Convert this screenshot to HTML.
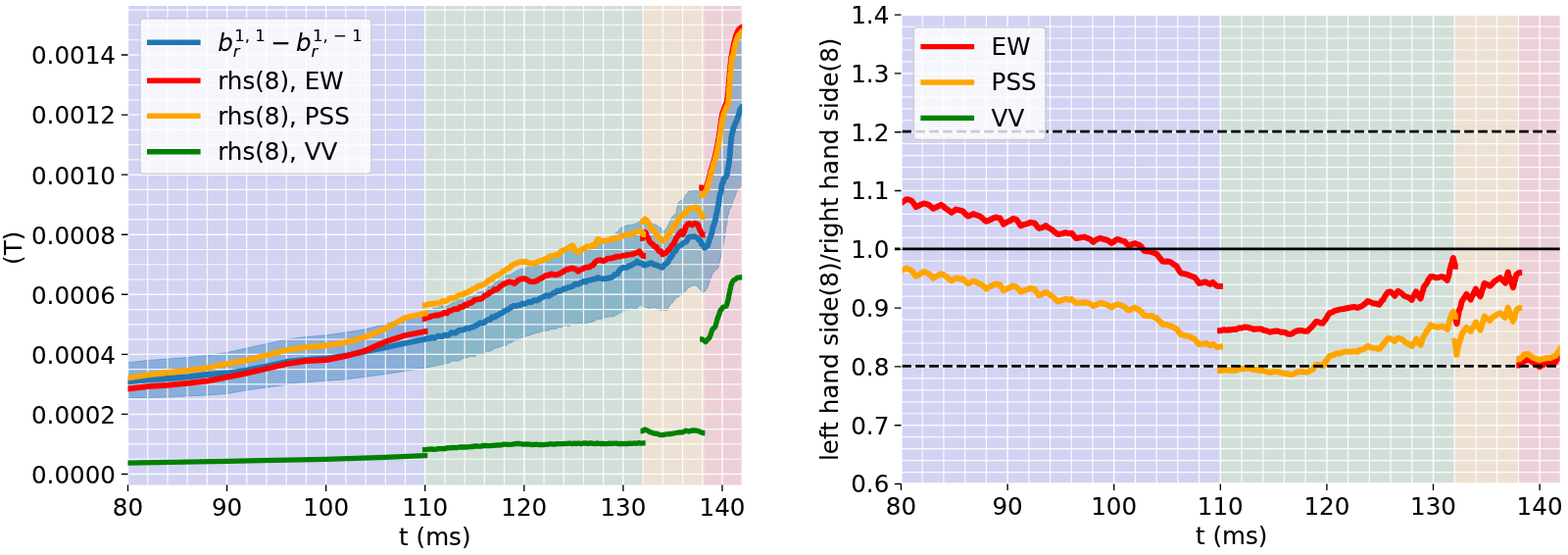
<!DOCTYPE html>
<html lang="en"><head><meta charset="utf-8"><title>Figure</title>
<style>html,body{margin:0;padding:0;background:#fff}body{width:1600px;height:566px;overflow:hidden}svg{display:block}</style>
</head><body>
<svg width="1600" height="566" viewBox="0 0 1600 566" font-family='"DejaVu Sans", "Liberation Sans", sans-serif'>
<rect width="1600" height="566" fill="#fff"/>
<style>text{stroke:#000;stroke-width:0.08px;stroke-linejoin:round}</style>
<clipPath id="cl"><rect x="130.5" y="6.0" width="626.7" height="488.6"/></clipPath>
<rect x="130.50" y="6.00" width="626.70" height="488.60" fill="#eaeaf2"/>
<rect x="130.50" y="6.00" width="303.24" height="488.60" fill="#0000ff" fill-opacity="0.1"/>
<rect x="433.74" y="6.00" width="222.38" height="488.60" fill="#008000" fill-opacity="0.1"/>
<rect x="656.12" y="6.00" width="62.65" height="488.60" fill="#ffa500" fill-opacity="0.125"/>
<rect x="718.76" y="6.00" width="38.43" height="488.60" fill="#ff0000" fill-opacity="0.11"/>
<path d="M130.5 369.7L150.7 367.5L170.9 366.0L191.1 364.5L211.4 362.5L231.6 359.5L251.8 355.0L272.0 350.7L292.2 346.0L312.4 343.5L332.7 341.8L352.9 339.0L373.1 335.8L393.3 330.5L413.5 325.0L433.7 319.0L433.7 317.0L436.3 316.3L438.7 316.6L441.3 315.1L443.8 313.9L446.5 314.1L448.7 312.4L451.6 311.8L453.6 312.4L456.7 312.1L459.0 310.6L461.2 308.7L463.8 308.6L466.4 307.0L469.1 305.8L471.9 305.8L474.3 305.0L476.8 303.9L479.1 302.7L482.1 302.6L484.4 301.2L486.7 299.0L489.1 297.8L491.8 297.7L494.3 296.7L496.9 295.4L498.7 292.0L501.1 292.3L503.3 291.0L505.7 287.6L507.7 287.6L510.0 284.7L512.5 284.9L514.4 281.7L516.9 280.6L519.6 280.8L522.4 279.2L525.1 277.4L527.5 276.1L529.9 275.0L532.2 274.1L535.0 274.4L537.6 272.7L539.8 272.2L542.5 273.1L545.3 271.2L547.4 269.9L549.9 269.5L552.2 267.1L555.0 265.2L557.6 264.5L560.0 263.7L562.5 263.9L565.2 262.1L567.3 260.1L570.3 260.3L572.5 257.7L575.5 257.5L578.4 255.1L581.1 255.1L583.8 252.8L586.8 254.6L589.1 257.5L592.2 256.0L594.9 255.2L597.5 253.6L599.6 252.5L602.4 252.7L604.5 252.0L606.8 251.8L608.4 247.5L609.7 245.9L612.8 246.1L615.5 247.6L619.1 246.0L622.1 246.0L624.1 243.4L625.7 240.3L628.2 237.5L630.3 236.4L633.0 232.8L636.0 231.5L640.3 229.6L643.0 229.7L646.2 229.0L650.1 227.5L653.2 225.6L656.1 223.7L660.2 226.8L664.2 227.8L668.0 228.7L669.9 229.7L672.1 231.2L674.2 232.2L676.5 236.0L678.9 234.5L680.5 232.0L682.2 228.9L683.5 225.5L684.7 222.7L685.8 221.0L688.0 219.4L690.3 216.2L690.4 212.8L691.4 210.3L691.8 207.4L694.1 204.8L697.2 203.9L698.6 201.2L700.0 198.4L701.7 197.1L702.9 194.8L705.9 195.2L710.0 193.3L713.2 195.7L717.0 193.4L718.8 195.6L720.9 191.9L721.9 187.9L723.0 185.3L723.7 182.1L724.0 181.0L724.2 176.6L724.7 175.7L725.9 172.4L726.8 168.6L727.3 165.0L728.2 162.9L729.3 160.7L729.9 156.3L730.7 154.3L731.5 151.3L732.3 148.6L732.2 145.6L732.6 142.5L733.1 138.8L733.3 137.4L733.8 133.8L734.3 131.9L734.8 129.0L735.2 125.8L735.4 123.8L736.5 120.9L737.0 116.3L738.2 114.9L739.0 112.1L740.2 110.8L741.0 108.4L741.8 105.3L742.4 102.9L742.5 100.3L742.7 96.9L743.0 96.0L743.0 92.6L743.2 89.6L743.1 88.2L743.3 84.2L743.7 82.6L743.4 80.0L743.6 78.1L743.8 75.6L744.5 72.2L744.5 69.3L745.1 67.5L745.4 65.7L745.7 63.4L745.8 60.9L746.5 56.9L747.1 54.6L747.5 52.8L748.0 50.7L748.9 47.1L750.2 45.7L751.7 41.9L753.0 40.9L754.9 38.1L757.2 36.0L757.2 188.0L755.9 190.4L754.0 192.3L751.9 195.3L751.0 197.6L750.0 200.3L749.1 202.1L748.0 205.1L747.1 207.2L746.1 211.4L744.9 212.7L743.8 215.6L743.6 217.8L742.8 220.0L742.4 222.5L742.2 225.4L741.7 229.2L740.8 230.6L740.6 233.2L740.2 236.7L739.9 238.1L739.3 242.9L738.9 244.4L738.3 248.4L737.9 250.3L737.4 253.1L736.9 256.2L736.3 259.2L735.7 262.0L735.1 263.3L734.2 267.5L733.9 269.1L733.1 272.9L731.4 274.6L729.7 275.5L728.5 277.5L726.8 279.6L725.9 282.0L724.9 285.1L723.9 287.7L723.0 290.9L722.1 292.7L720.9 295.2L720.0 296.5L716.9 298.7L714.8 295.5L713.2 294.2L711.0 291.8L709.1 291.0L706.8 291.4L704.0 292.4L701.9 294.2L699.7 296.9L696.4 298.5L694.2 301.3L691.8 302.9L689.5 304.1L686.9 307.9L685.6 309.5L684.1 310.6L682.3 313.3L681.1 316.6L676.2 316.5L673.1 316.4L670.0 314.2L666.1 313.6L663.1 314.6L659.9 313.7L655.9 312.8L653.2 310.6L650.2 314.3L647.2 314.8L644.1 313.5L641.3 315.8L638.5 315.9L635.9 317.6L632.2 319.2L629.0 321.0L626.3 322.8L623.5 322.7L621.1 323.1L618.1 323.7L615.9 323.8L613.0 325.4L609.9 325.1L607.5 327.1L605.5 327.9L603.3 328.6L600.7 328.7L597.7 330.1L595.7 329.0L592.9 329.7L590.2 329.5L587.7 330.9L585.2 330.1L582.3 331.1L580.4 332.7L577.7 331.5L574.9 332.5L572.6 334.2L570.0 333.3L567.9 335.4L564.9 335.2L562.8 335.5L560.3 336.7L557.8 337.3L554.9 337.4L552.5 337.9L550.0 339.2L547.3 339.3L545.0 340.4L542.4 341.0L540.0 342.3L537.3 342.7L534.8 343.9L532.5 344.1L529.8 346.6L527.2 346.7L524.5 347.2L522.3 349.4L519.6 349.7L517.2 352.0L514.9 352.5L511.8 352.8L509.5 354.2L507.0 354.8L504.7 355.3L501.7 357.4L499.2 358.2L496.8 358.3L494.4 359.2L492.1 361.7L489.1 361.5L487.1 361.4L484.0 363.7L481.7 363.4L479.4 363.6L476.9 364.4L474.4 365.3L471.6 365.9L469.2 367.4L466.6 368.3L464.2 368.0L461.4 368.1L458.8 370.1L456.5 370.3L453.9 371.0L433.7 375.3L390.0 382.0L352.0 387.0L300.0 390.5L288.0 393.0L272.0 395.0L251.8 398.0L231.6 401.5L211.4 403.0L191.1 404.0L170.9 405.0L150.7 405.5L130.5 405.5Z" fill="#1f77b4" fill-opacity="0.4" stroke="#1f77b4" stroke-opacity="0.4" stroke-width="1" clip-path="url(#cl)"/>
<path d="M150.72 6.00V494.60M170.93 6.00V494.60M191.15 6.00V494.60M211.36 6.00V494.60M251.80 6.00V494.60M272.01 6.00V494.60M292.23 6.00V494.60M312.44 6.00V494.60M352.88 6.00V494.60M373.09 6.00V494.60M393.31 6.00V494.60M413.52 6.00V494.60M453.96 6.00V494.60M474.17 6.00V494.60M494.39 6.00V494.60M514.60 6.00V494.60M555.04 6.00V494.60M575.25 6.00V494.60M595.47 6.00V494.60M615.68 6.00V494.60M656.12 6.00V494.60M676.33 6.00V494.60M696.55 6.00V494.60M716.76 6.00V494.60M757.20 6.00V494.60M130.50 468.23H757.20M130.50 452.96H757.20M130.50 437.70H757.20M130.50 407.16H757.20M130.50 391.89H757.20M130.50 376.63H757.20M130.50 346.09H757.20M130.50 330.82H757.20M130.50 315.56H757.20M130.50 285.02H757.20M130.50 269.75H757.20M130.50 254.49H757.20M130.50 223.95H757.20M130.50 208.69H757.20M130.50 193.42H757.20M130.50 162.88H757.20M130.50 147.62H757.20M130.50 132.35H757.20M130.50 101.81H757.20M130.50 86.55H757.20M130.50 71.28H757.20M130.50 40.74H757.20M130.50 25.48H757.20M130.50 10.21H757.20" stroke="#fff" stroke-opacity="0.88" stroke-width="1.2" fill="none"/>
<path d="M130.50 6.00V494.60M231.58 6.00V494.60M332.66 6.00V494.60M433.74 6.00V494.60M534.82 6.00V494.60M635.90 6.00V494.60M736.98 6.00V494.60M130.50 483.50H757.20M130.50 422.43H757.20M130.50 361.36H757.20M130.50 300.29H757.20M130.50 239.22H757.20M130.50 178.15H757.20M130.50 117.08H757.20M130.50 56.01H757.20" stroke="#fff" stroke-opacity="0.88" stroke-width="1.45" fill="none"/>
<g clip-path="url(#cl)">
<path d="M127.6 389.3L130.5 389.3L150.7 387.3L170.9 386.0L191.1 384.3L211.4 382.0L231.6 380.5L251.8 377.5L272.0 373.5L292.2 369.0L312.4 367.0L332.7 365.5L352.9 362.5L373.1 358.5L393.3 354.5L413.5 350.0L433.7 346.0L436.1 344.9L438.2 345.4L440.6 344.1L442.7 344.8L444.8 343.8L447.1 342.4L449.2 343.1L451.5 343.0L453.6 341.5L456.3 342.3L458.5 341.4L460.6 339.1L462.7 339.3L465.1 339.5L467.6 337.3L469.9 336.6L472.0 336.6L474.2 335.7L476.2 334.5L478.5 334.9L480.8 333.9L483.4 333.3L485.6 332.0L487.8 330.8L489.9 329.1L492.0 329.5L494.6 328.8L496.3 326.8L498.4 325.9L500.4 325.9L502.2 323.1L504.8 323.4L506.5 322.0L508.7 321.1L510.6 319.5L512.6 319.1L514.4 317.4L517.2 316.3L519.4 315.0L521.4 313.5L524.2 311.7L526.1 312.3L528.4 311.4L530.7 311.2L532.9 309.5L534.9 309.9L537.3 309.2L539.8 307.8L542.3 308.2L545.2 306.2L547.5 306.5L549.7 305.6L552.4 303.5L554.8 302.8L557.4 301.2L560.3 301.8L562.5 300.5L565.3 298.5L567.2 298.1L568.9 296.3L571.3 296.9L573.2 296.1L575.2 294.4L577.3 294.4L579.5 293.1L581.5 292.8L584.3 291.9L587.1 289.6L590.2 289.8L592.6 288.4L595.7 286.8L597.7 287.6L600.2 285.9L603.0 285.6L605.5 284.7L607.5 284.5L609.9 283.1L612.7 284.0L615.5 284.4L617.9 284.1L619.6 283.8L622.2 283.4L624.8 282.5L627.3 280.1L630.2 279.2L631.1 277.4L632.1 275.5L633.7 274.1L635.9 272.8L639.9 272.8L642.0 271.0L643.8 270.9L646.0 269.2L648.3 268.4L650.1 266.6L652.5 268.3L655.2 268.7L657.4 270.7L660.3 269.7L662.3 268.8L665.2 268.2L667.5 270.0L669.7 270.2L672.0 271.3L673.9 272.0L675.8 272.8L678.0 270.1L680.1 268.5L681.5 267.6L682.5 264.9L684.0 262.8L685.6 261.3L686.7 258.2L688.1 257.0L689.5 255.7L690.8 253.2L692.2 251.3L694.4 250.4L696.7 248.5L698.3 247.3L700.3 246.6L701.2 244.9L702.9 241.6L705.8 241.3L708.8 241.1L711.3 242.1L713.0 244.5L714.8 245.5L715.8 248.9L717.6 250.2L718.9 252.8L721.9 250.9L723.2 246.9L724.1 244.0L725.1 241.4L725.5 239.4L726.2 238.4L726.9 235.3L727.2 232.8L727.9 230.8L728.9 228.1L729.5 225.4L730.1 224.8L730.5 220.7L731.1 218.3L731.4 217.2L732.0 213.5L732.4 211.2L733.1 209.6L733.1 207.1L733.8 205.6L733.8 202.7L734.4 199.7L734.6 198.1L735.5 196.1L736.0 193.8L736.3 189.6L737.0 187.2L737.9 186.0L738.5 182.4L740.4 181.1L741.8 178.2L742.2 175.9L742.7 172.2L743.4 169.6L743.4 168.2L744.1 164.2L744.2 162.8L744.5 159.6L744.9 156.7L745.1 155.5L744.9 152.2L745.3 151.2L745.5 147.8L745.7 146.2L746.2 142.8L746.0 140.9L746.6 138.9L746.7 137.2L747.5 134.7L748.4 131.0L749.0 129.6L750.0 126.3L751.7 123.5L752.7 120.1L753.4 117.9L754.5 115.3L754.7 112.6L757.2 109.0L760.1 109.0" stroke="#1f77b4" stroke-width="5.8" fill="none" stroke-linejoin="round" stroke-linecap="butt"/>
<path d="M127.6 396.5L130.5 396.5L150.7 394.2L170.9 392.8L191.1 390.8L211.4 388.6L231.6 384.7L251.8 380.6L272.0 376.0L292.2 371.2L312.4 368.2L332.7 367.2L352.9 363.2L373.1 357.5L393.3 348.5L413.5 342.0L433.7 338.0L436.6 338.0" stroke="#ff0000" stroke-width="5.8" fill="none" stroke-linejoin="round" stroke-linecap="butt"/>
<path d="M430.8 325.0L433.7 325.0L435.7 323.5L438.3 323.6L440.2 322.5L442.8 322.0L445.1 321.3L447.0 321.6L449.4 320.8L451.9 319.9L453.6 318.7L456.1 319.4L458.3 317.1L460.9 316.6L462.8 315.4L465.2 315.2L467.6 315.0L469.5 313.0L472.2 313.0L474.3 310.6L476.3 311.2L478.4 309.1L480.1 309.1L482.1 308.0L484.2 305.9L486.3 305.5L488.5 305.1L490.6 304.8L492.5 303.9L494.2 301.6L496.4 301.0L498.2 299.8L500.7 297.7L502.6 297.2L504.4 295.0L506.6 295.3L508.4 294.2L510.7 291.9L512.7 290.6L514.4 289.6L517.6 288.0L519.8 287.3L522.6 287.9L525.0 289.2L527.2 287.2L528.9 285.4L531.1 284.7L534.6 284.1L537.5 285.1L540.3 286.9L542.2 287.2L544.9 287.3L546.7 286.7L548.9 285.8L550.7 284.4L553.2 283.3L555.1 282.1L557.3 280.9L559.9 280.6L562.5 279.3L565.0 280.1L567.4 280.3L570.1 279.5L572.7 278.2L575.0 276.9L577.8 274.8L580.3 274.5L584.0 273.4L587.2 274.4L590.0 276.8L591.7 275.5L593.6 274.5L595.4 273.9L598.3 272.3L601.1 272.6L603.8 270.6L605.1 270.6L607.0 267.7L608.4 266.4L609.9 265.6L612.7 265.2L615.8 266.2L618.0 265.2L619.8 263.7L622.0 263.7L624.9 263.2L627.2 262.4L630.0 261.6L633.0 261.6L635.7 260.6L638.5 260.6L640.9 259.8L642.9 259.7L645.2 259.4L647.9 258.4L649.9 257.6L652.5 256.2L654.4 259.4L656.1 261.0L659.0 261.0" stroke="#ff0000" stroke-width="5.8" fill="none" stroke-linejoin="round" stroke-linecap="butt"/>
<path d="M653.2 243.0L656.1 243.0L657.1 239.4L658.7 237.1L660.1 241.0L661.5 242.7L663.0 246.7L664.9 248.5L666.0 249.1L667.8 251.5L669.8 251.6L671.5 254.7L672.8 256.4L674.4 256.2L676.1 259.4L679.7 257.9L681.1 255.8L682.5 254.6L684.2 252.6L685.5 250.4L686.7 249.5L688.2 247.1L689.2 244.8L690.5 242.0L692.3 239.8L693.3 237.9L695.2 236.0L696.1 237.9L696.8 239.2L697.7 237.6L698.9 234.3L699.7 231.4L701.8 228.8L703.3 227.9L706.3 229.5L709.1 227.7L712.0 229.0L712.9 230.6L713.8 233.8L715.0 236.2L716.7 239.5L719.6 239.5" stroke="#ff0000" stroke-width="5.8" fill="none" stroke-linejoin="round" stroke-linecap="butt"/>
<path d="M713.3 191.5L716.2 191.5L718.5 192.5L720.3 191.7L721.1 189.4L721.8 187.4L722.6 185.1L723.3 182.5L723.9 180.0L724.6 177.8L725.2 174.9L725.7 172.7L726.5 170.6L727.1 168.2L727.7 166.3L728.6 163.1L729.8 159.7L730.1 157.5L730.7 155.4L731.2 152.6L731.7 150.2L732.2 147.7L732.5 145.7L732.8 143.4L733.3 141.1L733.7 139.3L733.9 136.8L734.3 134.6L734.6 132.3L734.8 130.2L735.2 128.3L735.5 126.0L735.9 123.6L736.2 121.1L736.6 118.9L736.9 116.7L737.7 114.2L738.7 111.5L739.6 108.9L740.6 106.9L741.8 104.5L742.0 101.8L742.4 99.7L742.6 97.2L742.8 94.8L743.2 92.6L743.3 90.0L743.6 87.4L743.7 84.9L743.9 82.3L744.0 80.1L744.3 77.6L744.5 75.3L744.7 72.5L745.0 70.3L745.2 67.7L745.5 65.0L745.8 62.6L745.9 59.8L746.5 57.4L746.9 55.0L747.5 52.5L747.9 50.1L748.2 48.3L748.6 46.1L749.1 43.2L749.7 41.3L750.2 39.4L750.8 36.8L751.6 35.2L752.7 32.3L754.1 29.9L757.2 27.5L760.1 27.5" stroke="#ff0000" stroke-width="5.8" fill="none" stroke-linejoin="round" stroke-linecap="butt"/>
<path d="M127.6 385.5L130.5 385.5L150.7 382.3L170.9 380.0L191.1 377.8L211.4 375.2L231.6 371.2L251.8 367.2L272.0 362.2L292.2 357.0L312.4 354.2L332.7 352.5L352.9 349.2L373.1 343.5L393.3 335.0L413.5 324.0L433.7 319.5L436.6 319.5" stroke="#ffa500" stroke-width="5.8" fill="none" stroke-linejoin="round" stroke-linecap="butt"/>
<path d="M430.8 311.5L433.7 311.5L435.8 310.8L438.4 309.9L440.5 310.1L442.6 309.6L445.0 309.4L447.3 309.0L449.4 308.6L451.5 306.8L453.7 307.4L456.2 306.5L458.6 304.5L460.9 303.6L462.8 304.3L465.3 303.3L467.5 301.3L469.9 300.5L472.2 300.7L474.1 298.7L476.3 298.7L478.5 296.9L480.1 297.2L482.4 294.8L484.4 294.3L486.3 293.5L488.1 291.6L490.5 291.4L492.5 290.4L494.6 289.6L496.1 288.6L497.8 286.4L500.1 284.9L501.9 285.3L503.7 282.6L505.6 281.4L507.4 281.2L509.0 279.9L511.2 279.1L512.7 276.7L514.7 276.4L517.3 274.1L519.9 273.4L522.2 270.7L524.4 269.6L526.8 268.6L529.1 267.6L531.3 267.2L534.6 267.0L537.3 267.0L539.9 268.7L542.8 268.3L545.3 268.5L547.9 267.5L550.5 266.1L552.7 265.9L555.0 264.6L557.7 263.9L559.7 262.1L562.8 261.0L565.0 260.5L567.3 259.9L570.2 259.4L572.6 256.2L575.1 255.2L577.8 253.8L579.9 252.8L584.2 250.3L585.9 253.2L587.2 255.7L588.9 257.2L591.1 256.6L593.0 254.5L594.8 254.2L597.3 252.4L599.7 251.2L602.2 251.8L604.7 249.7L607.1 250.4L608.6 246.4L610.2 243.9L612.8 245.2L615.9 245.9L618.0 245.3L619.7 245.2L622.0 244.8L624.9 243.1L627.1 243.1L630.1 243.5L631.8 241.8L634.0 241.1L635.9 240.4L638.4 239.8L640.5 238.7L643.1 239.0L645.5 238.7L647.8 237.2L649.9 235.8L654.2 235.7L656.1 239.0L659.0 239.0" stroke="#ffa500" stroke-width="5.8" fill="none" stroke-linejoin="round" stroke-linecap="butt"/>
<path d="M653.2 226.0L656.1 226.0L658.2 223.3L660.8 225.6L662.6 228.9L663.8 231.7L665.1 232.9L666.7 234.5L667.8 236.1L670.0 239.8L672.1 241.5L673.9 244.1L676.4 245.6L678.8 243.7L680.4 242.4L681.8 238.2L683.4 237.7L684.8 235.6L686.3 233.1L687.4 230.8L688.7 229.6L690.0 227.7L691.7 224.9L693.9 221.5L696.3 219.7L698.1 217.7L699.9 216.8L701.3 214.5L703.2 212.6L706.1 212.3L710.1 211.4L712.9 213.4L715.1 217.9L716.7 221.0L719.6 221.0" stroke="#ffa500" stroke-width="5.8" fill="none" stroke-linejoin="round" stroke-linecap="butt"/>
<path d="M713.8 199.0L716.7 199.0L718.5 197.7L719.7 195.5L721.1 193.6L721.6 191.3L722.2 189.0L722.9 187.0L723.5 185.0L724.1 182.5L724.8 180.2L725.3 177.4L726.0 175.0L726.6 172.9L727.3 170.5L727.8 168.2L728.6 165.7L729.5 163.2L730.5 160.2L731.1 157.4L731.6 155.3L731.9 152.9L732.6 150.5L733.0 148.2L733.4 145.8L733.8 143.4L734.0 141.6L734.4 139.3L734.8 136.8L735.1 135.1L735.4 132.4L735.8 130.6L735.9 128.3L736.3 126.3L736.7 123.5L737.3 121.3L737.8 119.0L738.2 116.8L739.1 114.6L740.1 112.0L740.9 110.3L742.1 107.6L743.1 105.2L743.2 102.4L743.5 100.0L743.7 97.6L743.8 95.2L743.9 92.6L744.3 89.8L744.4 87.4L744.5 85.0L744.8 82.6L744.8 79.9L745.0 77.3L745.2 75.2L745.5 72.8L745.7 70.3L745.9 67.3L746.4 64.9L746.5 62.3L746.7 59.7L748.0 56.0L748.5 53.8L749.0 51.8L749.3 49.4L749.9 47.0L750.2 44.8L751.1 42.5L752.0 39.7L752.9 37.0L755.1 34.4L757.2 32.0L760.1 32.0" stroke="#ffa500" stroke-width="5.8" fill="none" stroke-linejoin="round" stroke-linecap="butt"/>
<path d="M127.8 472.1L130.4 472.1L231.6 470.4L332.7 468.4L393.3 466.3L433.6 464.6L436.3 464.6" stroke="#008000" stroke-width="5.3" fill="none" stroke-linejoin="round" stroke-linecap="butt"/>
<path d="M431.0 458.7L433.6 458.7L435.9 458.3L438.3 458.1L440.6 458.0L442.8 458.3L445.2 458.2L447.5 457.7L449.8 457.6L452.1 457.7L454.5 457.5L456.7 456.7L459.1 456.8L461.4 456.5L463.7 456.4L466.0 456.7L468.4 456.0L470.7 456.0L473.0 455.8L475.3 456.0L477.6 455.8L479.7 455.5L482.0 455.7L484.2 454.8L486.4 455.0L488.6 455.2L491.0 455.1L493.2 454.4L495.4 454.5L497.7 454.6L500.0 454.6L502.3 454.3L504.4 454.3L506.7 453.9L509.0 454.0L511.2 453.9L513.4 453.2L515.6 453.1L518.1 453.3L520.5 453.3L523.1 453.1L525.6 452.6L528.0 452.3L530.5 452.5L532.9 453.0L535.3 453.1L537.7 453.0L540.2 453.2L542.6 453.5L545.2 453.4L547.5 453.2L549.8 453.6L552.0 453.4L554.3 453.6L556.6 453.4L558.8 453.3L561.2 452.7L563.4 452.8L565.7 453.2L568.0 452.7L570.1 452.6L572.5 452.7L574.7 452.7L577.0 452.4L579.3 452.3L581.4 452.0L583.7 452.6L586.0 452.2L588.3 452.5L590.6 452.0L593.0 452.6L595.3 452.0L597.5 452.0L599.9 452.3L602.2 452.0L604.4 452.1L606.7 452.6L609.0 452.0L611.3 452.3L613.4 452.5L615.8 452.3L618.0 452.6L620.3 452.4L622.5 452.1L624.7 452.4L626.9 452.1L629.1 452.2L631.5 452.6L633.6 452.3L635.8 452.6L638.2 452.3L640.4 452.5L642.6 452.2L644.9 452.4L647.2 452.0L649.4 452.3L651.5 451.7L653.8 452.2L656.1 451.9L658.7 451.9" stroke="#008000" stroke-width="5.3" fill="none" stroke-linejoin="round" stroke-linecap="butt"/>
<path d="M653.5 439.5L656.1 439.5L657.9 437.9L660.5 438.9L663.0 440.4L665.3 441.2L667.6 442.1L670.0 442.2L673.0 443.3L676.2 443.7L679.1 443.0L681.9 442.6L684.6 442.5L687.4 442.0L690.1 441.5L693.3 440.9L696.5 440.8L700.0 439.2L702.9 440.0L706.9 438.9L711.1 439.2L715.0 440.6L716.7 441.5L719.4 441.5" stroke="#008000" stroke-width="5.3" fill="none" stroke-linejoin="round" stroke-linecap="butt"/>
<path d="M714.1 346.0L716.7 346.0L720.1 348.6L722.1 346.2L724.0 344.3L725.1 341.5L725.9 339.0L727.1 335.7L729.9 333.2L730.5 330.9L731.2 328.4L731.8 326.0L732.5 324.0L733.4 321.5L734.1 319.7L734.9 316.8L736.5 315.1L737.9 313.0L741.1 312.2L742.1 309.0L743.0 305.8L743.4 303.7L743.9 300.4L744.6 298.1L745.0 295.3L745.5 293.3L746.0 290.8L747.1 288.5L748.0 286.3L750.2 285.0L752.4 283.2L754.7 283.2L757.2 282.6L759.9 282.6" stroke="#008000" stroke-width="5.3" fill="none" stroke-linejoin="round" stroke-linecap="butt"/>
</g>
<path d="M130.50 494.60v6.4M231.58 494.60v6.4M332.66 494.60v6.4M433.74 494.60v6.4M534.82 494.60v6.4M635.90 494.60v6.4M736.98 494.60v6.4M130.50 483.50h-6.6M130.50 422.43h-6.6M130.50 361.36h-6.6M130.50 300.29h-6.6M130.50 239.22h-6.6M130.50 178.15h-6.6M130.50 117.08h-6.6M130.50 56.01h-6.6" stroke="#000" stroke-width="1.35" fill="none"/>
<g font-size="24.6" fill="#000" text-anchor="middle">
<text x="130.50" y="525.70">80</text>
<text x="231.58" y="525.70">90</text>
<text x="332.66" y="525.70">100</text>
<text x="433.74" y="525.70">110</text>
<text x="534.82" y="525.70">120</text>
<text x="635.90" y="525.70">130</text>
<text x="736.98" y="525.70">140</text>
</g>
<g font-size="24.6" fill="#000" text-anchor="end">
<text x="118.00" y="492.90">0.0000</text>
<text x="118.00" y="431.83">0.0002</text>
<text x="118.00" y="370.76">0.0004</text>
<text x="118.00" y="309.69">0.0006</text>
<text x="118.00" y="248.62">0.0008</text>
<text x="118.00" y="187.55">0.0010</text>
<text x="118.00" y="126.48">0.0012</text>
<text x="118.00" y="65.41">0.0014</text>
</g>
<text x="443.8" y="556" font-size="24.6" text-anchor="middle">t (ms)</text>
<text transform="translate(21.5 252.8) rotate(-90)" font-size="24.6" text-anchor="middle">(T)</text>
<rect x="142.90" y="19.00" width="236.00" height="158.30" rx="4" ry="4" fill="#fff" fill-opacity="0.8" stroke="#c8c8d0" stroke-opacity="0.8" stroke-width="1.6"/>
<path d="M150.00 43.30H204.60" stroke="#1f77b4" stroke-width="5.4" fill="none"/>
<text x="222.20" y="51.50" font-size="24.6" fill="#000"><tspan font-style="italic">b</tspan><tspan font-style="italic" font-size="16.6" dy="6.5">r</tspan><tspan font-size="16.6" dy="-15.7" dx="-5.5">1, 1</tspan><tspan dy="9.2" dx="5.5">−</tspan><tspan font-style="italic" dx="5">b</tspan><tspan font-style="italic" font-size="16.6" dy="6.5">r</tspan><tspan font-size="16.6" dy="-15.7" dx="-5.5">1, − 1</tspan></text>
<path d="M150.00 82.30H204.60" stroke="#ff0000" stroke-width="5.4" fill="none"/>
<text x="222.20" y="90.50" font-size="24.6" fill="#000">rhs(8), EW</text>
<path d="M150.00 118.30H204.60" stroke="#ffa500" stroke-width="5.4" fill="none"/>
<text x="222.20" y="126.50" font-size="24.6" fill="#000">rhs(8), PSS</text>
<path d="M150.00 154.80H204.60" stroke="#008000" stroke-width="5.4" fill="none"/>
<text x="222.20" y="163.00" font-size="24.6" fill="#000">rhs(8), VV</text>
<rect x="919.50" y="15.00" width="673.30" height="478.50" fill="#eaeaf2"/>
<rect x="919.50" y="15.00" width="325.80" height="478.50" fill="#0000ff" fill-opacity="0.1"/>
<rect x="1245.30" y="15.00" width="238.92" height="478.50" fill="#008000" fill-opacity="0.1"/>
<rect x="1484.22" y="15.00" width="65.16" height="478.50" fill="#ffa500" fill-opacity="0.125"/>
<rect x="1549.38" y="15.00" width="43.44" height="478.50" fill="#ff0000" fill-opacity="0.11"/>
<path d="M941.22 15.00V493.50M962.94 15.00V493.50M984.66 15.00V493.50M1006.38 15.00V493.50M1049.82 15.00V493.50M1071.54 15.00V493.50M1093.26 15.00V493.50M1114.98 15.00V493.50M1158.42 15.00V493.50M1180.14 15.00V493.50M1201.86 15.00V493.50M1223.58 15.00V493.50M1267.02 15.00V493.50M1288.74 15.00V493.50M1310.46 15.00V493.50M1332.18 15.00V493.50M1375.62 15.00V493.50M1397.34 15.00V493.50M1419.06 15.00V493.50M1440.78 15.00V493.50M1484.22 15.00V493.50M1505.94 15.00V493.50M1527.66 15.00V493.50M1549.38 15.00V493.50M1592.82 15.00V493.50M919.50 481.54H1592.80M919.50 469.58H1592.80M919.50 457.62H1592.80M919.50 445.66H1592.80M919.50 421.74H1592.80M919.50 409.78H1592.80M919.50 397.82H1592.80M919.50 385.86H1592.80M919.50 361.94H1592.80M919.50 349.98H1592.80M919.50 338.02H1592.80M919.50 326.06H1592.80M919.50 302.14H1592.80M919.50 290.18H1592.80M919.50 278.22H1592.80M919.50 266.26H1592.80M919.50 242.34H1592.80M919.50 230.38H1592.80M919.50 218.42H1592.80M919.50 206.46H1592.80M919.50 182.54H1592.80M919.50 170.58H1592.80M919.50 158.62H1592.80M919.50 146.66H1592.80M919.50 122.74H1592.80M919.50 110.78H1592.80M919.50 98.82H1592.80M919.50 86.86H1592.80M919.50 62.94H1592.80M919.50 50.98H1592.80M919.50 39.02H1592.80M919.50 27.06H1592.80" stroke="#fff" stroke-opacity="0.88" stroke-width="1.2" fill="none"/>
<path d="M919.50 15.00V493.50M1028.10 15.00V493.50M1136.70 15.00V493.50M1245.30 15.00V493.50M1353.90 15.00V493.50M1462.50 15.00V493.50M1571.10 15.00V493.50M919.50 493.50H1592.80M919.50 433.70H1592.80M919.50 373.90H1592.80M919.50 314.10H1592.80M919.50 254.30H1592.80M919.50 194.50H1592.80M919.50 134.70H1592.80M919.50 74.90H1592.80M919.50 15.10H1592.80" stroke="#fff" stroke-opacity="0.88" stroke-width="1.45" fill="none"/>
<clipPath id="cr"><rect x="919.5" y="15.0" width="673.3" height="478.5"/></clipPath>
<g clip-path="url(#cr)">
<path d="M917.6 206.5L920.6 206.5L922.8 204.7L925.0 203.2L927.7 203.7L930.3 204.7L931.8 206.7L933.3 208.7L934.8 211.2L937.4 209.8L940.0 208.5L942.6 207.5L945.4 208.1L948.1 209.1L950.2 211.0L952.3 212.8L955.0 211.6L957.6 210.3L960.3 208.9L962.4 210.3L964.6 212.3L966.5 213.5L968.7 215.2L971.0 216.9L973.1 215.4L975.4 213.6L977.7 214.1L980.0 214.7L982.5 215.4L984.2 217.2L985.9 219.1L987.7 220.5L990.3 219.6L993.1 218.1L995.4 219.1L997.8 219.7L1000.2 220.8L1002.2 222.2L1004.2 224.3L1006.4 225.8L1008.7 224.9L1011.1 223.7L1013.5 222.5L1015.9 221.5L1018.3 222.2L1020.4 222.5L1021.5 224.5L1022.7 226.4L1023.9 228.6L1025.9 227.4L1027.9 226.4L1029.8 225.5L1031.7 224.5L1033.6 223.0L1037.2 224.0L1038.8 226.1L1040.1 228.1L1041.6 230.4L1044.0 229.2L1046.5 228.6L1049.0 227.9L1051.4 226.8L1053.5 227.2L1055.8 227.5L1057.3 229.6L1058.7 231.5L1060.2 232.9L1062.5 232.4L1064.9 231.5L1067.2 230.1L1069.9 232.3L1072.6 233.7L1074.3 235.0L1076.1 236.5L1077.8 237.9L1079.7 239.0L1081.9 238.6L1084.4 238.1L1086.7 237.2L1089.4 237.7L1092.0 238.0L1093.5 237.7L1095.0 239.5L1096.4 241.2L1098.0 242.9L1100.1 242.7L1102.4 242.3L1104.5 242.1L1106.7 241.6L1109.4 242.9L1112.1 243.8L1113.8 245.2L1115.5 246.8L1117.9 244.9L1120.3 243.7L1122.7 242.7L1125.0 243.6L1127.5 244.3L1129.8 244.8L1132.0 246.1L1134.1 247.9L1136.2 246.8L1138.2 245.0L1140.3 244.0L1142.6 244.7L1145.1 245.6L1147.5 246.1L1149.6 248.5L1151.9 250.4L1153.9 249.8L1155.9 248.8L1158.1 248.1L1160.0 249.0L1162.2 249.7L1164.2 251.0L1165.9 253.8L1167.7 255.9L1170.0 256.3L1172.4 256.4L1174.8 256.9L1177.5 257.8L1180.2 259.0L1181.6 260.7L1183.3 262.8L1184.7 264.6L1186.3 266.4L1188.7 266.7L1191.1 266.5L1193.4 266.9L1195.8 268.1L1198.0 269.8L1200.4 271.1L1201.8 273.8L1203.3 276.0L1204.8 278.2L1207.1 279.1L1209.5 279.4L1211.9 280.1L1214.3 281.2L1216.7 282.0L1218.9 282.9L1220.5 284.5L1221.9 286.7L1223.4 288.9L1225.8 288.6L1228.1 287.8L1230.4 287.5L1232.7 288.8L1234.9 289.9L1237.5 287.8L1239.7 289.9L1241.9 291.8L1244.9 292.1L1247.9 292.1" stroke="#ff0000" stroke-width="6.0" fill="none" stroke-linejoin="round" stroke-linecap="butt"/>
<path d="M1242.1 337.3L1245.1 337.3L1249.1 336.2L1251.5 336.9L1253.9 336.2L1256.1 336.4L1258.9 335.7L1261.5 335.9L1264.3 334.5L1266.7 334.6L1270.0 333.5L1273.1 333.8L1275.1 334.6L1277.1 334.8L1279.2 335.9L1281.7 335.5L1284.3 335.5L1287.1 335.5L1289.6 336.8L1293.0 337.5L1296.1 338.7L1299.0 338.0L1302.1 337.6L1304.4 337.8L1306.9 338.8L1309.2 338.8L1311.5 339.0L1314.0 340.6L1316.4 340.8L1318.5 340.3L1321.0 338.6L1323.4 337.5L1325.9 337.0L1328.6 337.2L1331.2 337.8L1333.9 337.8L1336.1 335.6L1338.3 333.8L1339.9 331.9L1341.2 330.1L1342.8 328.1L1345.2 328.3L1347.3 329.3L1349.8 329.8L1351.4 327.2L1352.8 325.6L1354.1 323.4L1355.5 320.9L1356.8 319.1L1359.3 318.6L1361.8 316.9L1364.1 316.4L1366.2 315.8L1368.7 315.4L1371.0 315.0L1374.7 314.2L1377.4 313.7L1379.8 313.3L1382.4 313.0L1385.1 314.0L1387.8 312.9L1390.3 311.7L1393.0 309.6L1395.7 307.0L1398.4 308.1L1401.1 309.4L1404.2 309.6L1407.3 310.7L1408.8 308.7L1410.1 306.6L1411.7 305.3L1413.1 302.3L1414.5 300.2L1416.1 298.0L1418.8 297.5L1420.9 299.1L1423.2 301.7L1424.9 299.5L1426.5 296.8L1428.8 298.2L1431.1 300.0L1433.4 302.1L1435.9 302.8L1438.3 303.9L1440.6 305.9L1441.8 303.1L1443.0 301.4L1444.0 298.9L1445.0 297.5L1446.4 299.6L1447.9 302.6L1449.5 304.4L1450.2 302.5L1450.9 299.8L1451.5 297.6L1452.2 295.7L1453.0 292.6L1454.1 291.1L1455.5 289.4L1456.6 287.3L1457.6 285.1L1459.0 283.3L1460.0 281.9L1462.7 282.2L1465.3 283.3L1467.8 283.0L1470.1 282.3L1472.3 282.2L1474.7 284.1L1476.8 285.8L1477.4 283.7L1478.2 281.6L1478.7 279.3L1479.2 276.1L1479.8 273.9L1480.5 271.4L1481.0 269.3L1481.7 267.8L1482.2 264.7L1482.9 263.1L1483.4 265.4L1483.9 266.9L1484.2 269.2L1484.8 271.8L1487.8 271.8" stroke="#ff0000" stroke-width="6.0" fill="none" stroke-linejoin="round" stroke-linecap="butt"/>
<path d="M1481.8 323.0L1484.8 323.0L1485.3 325.3L1486.0 328.1L1486.6 330.1L1487.1 327.3L1487.3 325.2L1487.8 322.2L1488.4 319.7L1488.9 316.5L1489.9 314.6L1490.6 312.4L1491.1 309.2L1491.8 307.2L1493.5 304.5L1494.8 302.6L1496.4 300.0L1497.9 302.1L1499.4 303.4L1500.6 305.7L1501.7 302.9L1503.0 300.9L1504.0 298.5L1505.0 296.5L1505.9 294.7L1507.1 297.3L1508.2 299.3L1509.3 300.4L1510.4 302.4L1511.2 300.6L1512.0 297.5L1512.6 295.4L1513.5 293.7L1514.0 290.5L1514.8 288.9L1517.5 290.1L1520.3 291.8L1522.0 290.3L1523.6 288.4L1525.6 286.4L1528.1 285.0L1530.7 283.1L1532.6 285.1L1534.2 286.6L1536.2 288.7L1536.9 286.0L1537.5 282.9L1537.9 280.7L1538.8 277.6L1539.3 280.5L1540.3 282.5L1541.1 284.1L1541.6 286.2L1542.6 289.0L1543.2 291.1L1544.0 293.2L1544.7 290.9L1545.1 288.6L1545.8 286.1L1546.3 284.5L1546.8 281.7L1547.4 280.0L1550.2 278.0L1553.2 278.0" stroke="#ff0000" stroke-width="6.0" fill="none" stroke-linejoin="round" stroke-linecap="butt"/>
<path d="M1547.2 372.4L1550.2 372.4L1552.0 370.6L1553.7 369.9L1555.5 368.4L1559.1 366.4L1561.6 367.8L1564.2 369.5L1566.5 371.2L1568.7 372.4L1571.1 374.1L1572.9 372.6L1574.8 372.2L1576.6 370.4L1579.2 370.4L1582.0 370.7L1584.7 369.9L1587.3 369.3L1588.7 366.8L1590.3 365.3L1591.8 363.2L1592.9 361.0L1595.9 361.0" stroke="#ff0000" stroke-width="6.0" fill="none" stroke-linejoin="round" stroke-linecap="butt"/>
<path d="M917.6 275.6L920.6 275.6L922.8 274.7L925.0 273.6L927.7 274.7L930.3 276.1L931.9 277.8L933.2 280.2L934.7 281.6L936.8 280.7L938.7 279.5L940.6 278.3L942.7 277.1L945.4 278.3L948.0 279.4L950.2 281.3L952.4 283.8L954.4 282.3L956.3 281.5L958.4 280.1L960.4 279.2L962.4 280.0L964.5 281.3L966.6 282.9L968.7 284.7L971.0 286.3L973.1 284.8L975.3 283.7L977.7 283.8L980.1 284.4L982.4 284.2L984.1 286.1L985.9 287.7L987.7 289.2L990.3 288.1L993.1 286.7L995.5 287.4L997.8 288.7L1000.2 289.5L1002.2 290.9L1004.2 292.5L1006.4 294.4L1008.7 292.9L1011.2 291.8L1013.6 290.7L1016.0 289.5L1018.2 290.2L1020.3 290.1L1021.5 292.4L1022.8 294.2L1023.9 296.2L1026.4 295.3L1028.7 294.0L1031.3 292.7L1033.6 291.5L1037.2 292.7L1038.6 294.2L1040.2 296.2L1041.6 297.7L1044.0 296.7L1046.4 295.9L1049.0 295.2L1051.3 293.9L1053.5 294.7L1055.8 294.8L1057.2 297.4L1058.7 299.2L1060.2 301.3L1062.6 300.3L1064.9 299.1L1067.3 297.9L1069.9 299.6L1072.5 301.4L1074.3 302.6L1076.0 304.3L1077.8 306.0L1079.6 307.6L1081.9 306.8L1084.3 305.9L1086.6 304.9L1089.3 305.2L1092.0 305.9L1093.5 305.1L1095.7 307.1L1098.0 308.8L1100.2 308.8L1102.3 308.8L1104.6 308.6L1106.7 308.3L1109.5 308.9L1112.1 309.6L1115.6 312.0L1118.0 311.1L1120.3 310.3L1122.6 308.9L1125.0 309.4L1127.3 310.2L1129.7 310.9L1132.0 312.3L1134.1 313.4L1136.2 312.1L1138.4 311.1L1140.4 310.5L1142.7 311.0L1145.1 312.0L1147.3 312.7L1149.6 314.9L1151.8 316.4L1154.0 315.8L1155.9 314.5L1158.0 313.6L1160.1 315.1L1162.1 316.0L1164.2 317.6L1165.9 319.4L1167.7 322.0L1170.1 322.0L1172.4 322.2L1174.9 322.0L1177.4 323.3L1180.0 324.2L1182.1 326.6L1184.2 328.3L1186.3 330.8L1188.6 331.1L1190.9 331.3L1193.4 332.3L1195.8 332.8L1198.0 334.3L1200.4 335.3L1201.9 337.0L1203.3 339.2L1204.8 341.1L1207.2 341.6L1209.6 342.4L1211.9 342.7L1214.3 343.4L1216.6 344.8L1219.0 345.8L1220.4 347.5L1221.9 349.7L1223.4 351.2L1225.8 351.1L1228.1 350.6L1230.5 349.8L1232.7 351.2L1234.9 352.2L1237.6 350.9L1239.7 352.2L1241.9 354.1L1244.9 353.6L1247.9 353.6" stroke="#ffa500" stroke-width="6.0" fill="none" stroke-linejoin="round" stroke-linecap="butt"/>
<path d="M1242.1 378.0L1245.1 378.0L1249.2 377.4L1251.6 377.5L1254.0 377.2L1256.3 378.0L1258.8 377.7L1261.6 377.4L1264.3 376.2L1266.9 376.2L1270.0 375.8L1272.8 375.7L1275.9 376.1L1279.1 377.0L1281.9 376.9L1284.4 377.9L1287.2 377.7L1289.7 378.4L1292.8 379.0L1295.8 380.1L1299.0 379.1L1302.0 378.9L1304.6 379.3L1306.7 380.2L1309.1 380.4L1311.7 381.1L1314.0 381.1L1316.2 381.9L1318.7 381.7L1320.9 381.0L1323.5 379.5L1325.9 379.3L1328.7 379.0L1331.2 379.4L1334.1 379.7L1336.0 378.3L1338.4 377.3L1340.0 376.1L1341.4 373.9L1342.8 372.0L1345.2 371.8L1347.5 372.5L1349.9 373.1L1351.3 371.3L1352.6 368.5L1354.0 367.2L1355.5 365.1L1356.9 362.9L1359.4 362.6L1361.7 361.7L1364.1 360.3L1366.4 360.6L1368.7 359.8L1371.0 359.0L1373.4 358.6L1375.5 358.6L1377.7 358.7L1380.0 358.5L1382.4 358.2L1385.2 358.7L1387.9 356.8L1390.6 356.4L1393.1 354.9L1395.7 352.8L1398.5 354.4L1401.1 354.9L1404.0 355.3L1407.1 356.0L1408.6 354.8L1410.2 352.4L1411.6 351.4L1413.2 348.8L1414.8 347.0L1416.0 345.1L1418.8 345.2L1421.1 346.5L1423.1 348.1L1424.9 346.0L1426.8 344.7L1428.8 345.1L1431.0 346.2L1433.5 348.7L1435.8 350.2L1438.4 351.7L1440.8 352.8L1442.3 350.4L1443.7 348.8L1445.2 345.8L1446.5 348.5L1447.9 350.4L1449.6 351.8L1450.4 349.9L1451.2 346.8L1452.1 344.3L1453.0 342.5L1454.4 340.2L1455.8 337.6L1457.3 336.3L1458.6 333.4L1459.9 331.5L1462.6 332.6L1465.5 333.5L1467.7 333.8L1470.2 332.6L1472.5 333.2L1474.7 334.2L1476.9 335.9L1477.5 334.5L1478.1 331.8L1478.6 329.2L1479.1 326.9L1479.8 324.7L1480.5 322.7L1481.7 320.0L1483.0 317.7L1483.9 320.1L1484.8 323.0L1487.8 323.0" stroke="#ffa500" stroke-width="6.0" fill="none" stroke-linejoin="round" stroke-linecap="butt"/>
<path d="M1481.5 347.7L1484.5 347.7L1484.8 349.6L1485.1 352.1L1485.6 354.5L1485.9 357.2L1486.2 360.0L1486.4 361.8L1486.9 359.5L1487.3 356.4L1487.9 354.1L1488.3 351.2L1489.2 349.5L1489.9 346.9L1490.5 345.1L1491.1 343.3L1491.9 340.4L1493.3 338.1L1495.0 335.6L1496.4 334.1L1498.5 336.1L1500.7 337.8L1501.9 335.2L1503.3 333.5L1504.7 331.5L1506.1 328.7L1507.5 331.4L1508.9 333.7L1510.6 336.7L1511.3 333.7L1512.0 332.1L1512.8 329.4L1513.4 327.5L1514.1 324.7L1514.8 322.6L1517.4 325.1L1520.1 326.8L1521.9 324.6L1523.6 323.2L1525.5 322.3L1528.2 320.4L1530.6 319.5L1532.6 320.5L1534.4 322.8L1535.9 324.0L1536.6 321.7L1537.2 319.3L1538.0 317.1L1538.6 313.8L1539.6 316.2L1540.3 318.6L1541.2 321.5L1542.1 323.2L1543.0 325.5L1543.8 327.8L1544.7 325.4L1545.5 323.8L1546.0 320.9L1546.7 318.8L1547.5 315.9L1550.2 314.1L1553.2 314.1" stroke="#ffa500" stroke-width="6.0" fill="none" stroke-linejoin="round" stroke-linecap="butt"/>
<path d="M1547.2 366.3L1550.2 366.3L1552.0 365.0L1553.8 363.5L1555.5 361.5L1559.0 360.9L1561.6 363.0L1564.3 364.9L1566.6 365.4L1568.7 366.5L1570.9 367.3L1573.8 366.1L1576.6 365.5L1579.3 364.9L1582.0 365.0L1584.7 363.9L1587.4 363.0L1588.8 360.7L1590.2 358.7L1591.6 356.8L1592.9 353.9L1595.9 353.9" stroke="#ffa500" stroke-width="6.0" fill="none" stroke-linejoin="round" stroke-linecap="butt"/>
</g>
<path d="M913.00 253.90H1592.80" stroke="#000" stroke-width="2.9" fill="none"/>
<path d="M920.20 134.20H1592.80M920.20 373.40H1592.80" stroke="#000" stroke-width="2.8" stroke-dasharray="9.7 4.3" fill="none"/>
<rect x="919.50" y="15.00" width="673.30" height="478.50" fill="none" stroke="#fff" stroke-width="2.2"/>
<path d="M919.50 493.50v6.4M1028.10 493.50v6.4M1136.70 493.50v6.4M1245.30 493.50v6.4M1353.90 493.50v6.4M1462.50 493.50v6.4M1571.10 493.50v6.4M919.50 493.50h-6.6M919.50 433.70h-6.6M919.50 373.90h-6.6M919.50 314.10h-6.6M919.50 254.30h-6.6M919.50 194.50h-6.6M919.50 134.70h-6.6M919.50 74.90h-6.6M919.50 15.10h-6.6" stroke="#000" stroke-width="1.35" fill="none"/>
<g font-size="24.6" fill="#000" text-anchor="middle">
<text x="919.50" y="524.50">80</text>
<text x="1028.10" y="524.50">90</text>
<text x="1136.70" y="524.50">100</text>
<text x="1245.30" y="524.50">110</text>
<text x="1353.90" y="524.50">120</text>
<text x="1462.50" y="524.50">130</text>
<text x="1571.10" y="524.50">140</text>
</g>
<g font-size="24.6" fill="#000" text-anchor="end">
<text x="907.30" y="502.40">0.6</text>
<text x="907.30" y="442.60">0.7</text>
<text x="907.30" y="382.80">0.8</text>
<text x="907.30" y="323.00">0.9</text>
<text x="907.30" y="263.20">1.0</text>
<text x="907.30" y="203.40">1.1</text>
<text x="907.30" y="143.60">1.2</text>
<text x="907.30" y="83.80">1.3</text>
<text x="907.30" y="24.00">1.4</text>
</g>
<text x="1256.7" y="555" font-size="24.6" text-anchor="middle">t (ms)</text>
<text transform="translate(855.4 254.3) rotate(-90)" font-size="24.6" text-anchor="middle">left hand side(8)/right hand side(8)</text>
<rect x="932.40" y="27.60" width="134.50" height="114.90" rx="4" ry="4" fill="#fff" fill-opacity="0.8" stroke="#c8c8d0" stroke-opacity="0.8" stroke-width="1.6"/>
<path d="M939.40 47.60H994.10" stroke="#ff0000" stroke-width="5.4" fill="none"/>
<text x="1011.60" y="55.90" font-size="24.6" fill="#000">EW</text>
<path d="M939.40 84.00H994.10" stroke="#ffa500" stroke-width="5.4" fill="none"/>
<text x="1011.60" y="92.30" font-size="24.6" fill="#000">PSS</text>
<path d="M939.40 120.40H994.10" stroke="#008000" stroke-width="5.4" fill="none"/>
<text x="1011.60" y="128.70" font-size="24.6" fill="#000">VV</text>
</svg>
</body></html>
